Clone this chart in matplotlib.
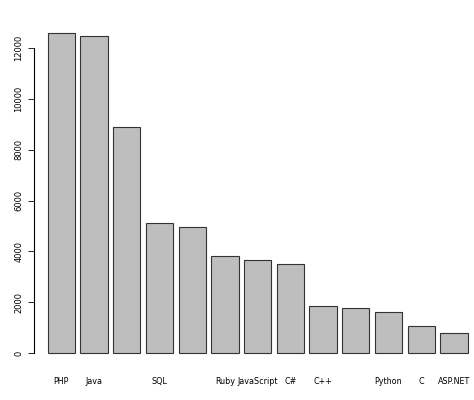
import matplotlib
matplotlib.use("Agg")
import matplotlib.pyplot as plt
import numpy as np

labels = ["PHP", "Java", "", "SQL", "", "Ruby", "JavaScript", "C#", "C++", "", "Python", "C", "ASP.NET"]
values = [12600, 12480, 8900, 5130, 4950, 3830, 3680, 3520, 1870, 1790, 1620, 1080, 800]
yticks = [0, 2000, 4000, 6000, 8000, 10000, 12000]

fig = plt.figure(figsize=(4.74, 4.0), dpi=100)
ax = fig.add_axes([0.095, 0.085, 0.9, 0.865])
x = np.arange(len(values)) * 1.2 + 0.5
ax.bar(x, values, width=1.0, color="#bebebe", edgecolor="#333333", linewidth=0.8)
span = x[-1] + 0.5
ax.set_xlim(-0.1, span + 0.15)
ax.set_ylim(-0.04 * 12600, 12600 * 1.04)
for s in ["top", "right", "bottom"]:
    ax.spines[s].set_visible(False)
ax.spines["left"].set_bounds(0, 12000)
ax.spines["left"].set_position(("outward", 8))
ax.set_yticks(yticks)
ax.set_yticklabels([str(v) for v in yticks], rotation=90, va="center", fontsize=6)
ax.tick_params(axis="y", length=4, width=0.6)
ax.set_xticks(x)
ax.set_xticklabels(labels, fontsize=5.8)
ax.tick_params(axis="x", length=0, pad=8)
fig.savefig("out.png", dpi=100)
